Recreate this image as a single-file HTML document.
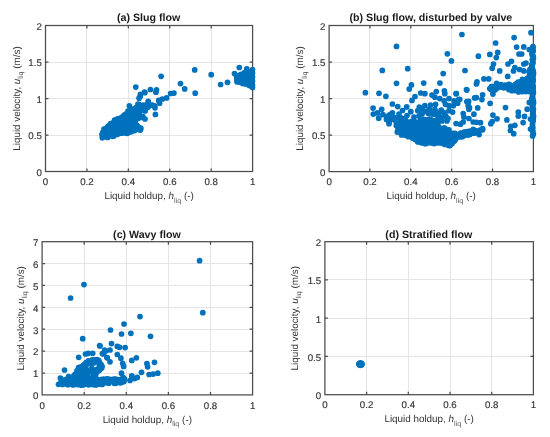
<!DOCTYPE html>
<html><head><meta charset="utf-8"><title>Flow regimes</title><style>html,body{margin:0;padding:0;background:#fff}svg{display:block}</style></head><body>
<svg width="550" height="437" viewBox="0 0 550 437" font-family="Liberation Sans, sans-serif" text-rendering="geometricPrecision">
<rect width="550" height="437" fill="#fff"/>
<g stroke="#e5e5e5" stroke-width="1"><line x1="86.50" y1="25.5" x2="86.50" y2="171.5"/><line x1="128.50" y1="25.5" x2="128.50" y2="171.5"/><line x1="169.50" y1="25.5" x2="169.50" y2="171.5"/><line x1="211.50" y1="25.5" x2="211.50" y2="171.5"/><line x1="45.5" y1="135.50" x2="252.6" y2="135.50"/><line x1="45.5" y1="98.50" x2="252.6" y2="98.50"/><line x1="45.5" y1="62.50" x2="252.6" y2="62.50"/></g>
<rect x="45.5" y="25.5" width="207.1" height="146.0" fill="none" stroke="#4c4c4c" stroke-width="1.25"/>
<path d="M86.92 171.5v-3M86.92 25.5v3M128.34 171.5v-3M128.34 25.5v3M169.76 171.5v-3M169.76 25.5v3M211.18 171.5v-3M211.18 25.5v3M45.5 135.00h3M252.6 135.00h-3M45.5 98.50h3M252.6 98.50h-3M45.5 62.00h3M252.6 62.00h-3" stroke="#4c4c4c" stroke-width="1.25" fill="none"/>
<g fill="#0072bd"><circle cx="130.4" cy="110.0" r="2.85"/><circle cx="131.9" cy="109.6" r="2.85"/><circle cx="128.0" cy="111.0" r="2.85"/><circle cx="130.7" cy="111.3" r="2.85"/><circle cx="133.7" cy="111.5" r="2.85"/><circle cx="126.2" cy="113.8" r="2.85"/><circle cx="127.7" cy="113.0" r="2.85"/><circle cx="129.2" cy="112.3" r="2.85"/><circle cx="131.7" cy="112.6" r="2.85"/><circle cx="134.6" cy="112.4" r="2.85"/><circle cx="135.4" cy="113.7" r="2.85"/><circle cx="124.2" cy="115.1" r="2.85"/><circle cx="127.4" cy="114.7" r="2.85"/><circle cx="129.5" cy="115.6" r="2.85"/><circle cx="131.6" cy="114.6" r="2.85"/><circle cx="132.6" cy="114.4" r="2.85"/><circle cx="134.6" cy="114.3" r="2.85"/><circle cx="122.1" cy="117.1" r="2.85"/><circle cx="123.0" cy="117.2" r="2.85"/><circle cx="126.4" cy="116.9" r="2.85"/><circle cx="127.5" cy="116.7" r="2.85"/><circle cx="129.3" cy="115.9" r="2.85"/><circle cx="132.7" cy="116.9" r="2.85"/><circle cx="134.1" cy="117.3" r="2.85"/><circle cx="136.0" cy="117.2" r="2.85"/><circle cx="117.5" cy="118.9" r="2.85"/><circle cx="119.9" cy="118.4" r="2.85"/><circle cx="122.9" cy="118.6" r="2.85"/><circle cx="124.3" cy="118.5" r="2.85"/><circle cx="126.8" cy="118.9" r="2.85"/><circle cx="128.2" cy="118.6" r="2.85"/><circle cx="130.5" cy="118.1" r="2.85"/><circle cx="133.4" cy="118.5" r="2.85"/><circle cx="135.2" cy="118.9" r="2.85"/><circle cx="137.9" cy="118.4" r="2.85"/><circle cx="114.5" cy="120.2" r="2.85"/><circle cx="116.6" cy="119.9" r="2.85"/><circle cx="118.7" cy="120.6" r="2.85"/><circle cx="121.9" cy="120.9" r="2.85"/><circle cx="123.0" cy="120.6" r="2.85"/><circle cx="125.9" cy="119.7" r="2.85"/><circle cx="128.4" cy="121.0" r="2.85"/><circle cx="129.4" cy="121.0" r="2.85"/><circle cx="131.8" cy="120.3" r="2.85"/><circle cx="134.8" cy="120.8" r="2.85"/><circle cx="135.6" cy="120.2" r="2.85"/><circle cx="113.4" cy="122.6" r="2.85"/><circle cx="115.8" cy="121.5" r="2.85"/><circle cx="118.2" cy="122.8" r="2.85"/><circle cx="120.9" cy="121.7" r="2.85"/><circle cx="121.9" cy="122.8" r="2.85"/><circle cx="124.7" cy="122.4" r="2.85"/><circle cx="126.0" cy="121.4" r="2.85"/><circle cx="129.1" cy="122.0" r="2.85"/><circle cx="130.2" cy="122.8" r="2.85"/><circle cx="133.2" cy="122.6" r="2.85"/><circle cx="110.6" cy="123.6" r="2.85"/><circle cx="113.5" cy="123.6" r="2.85"/><circle cx="115.2" cy="123.4" r="2.85"/><circle cx="117.0" cy="123.2" r="2.85"/><circle cx="119.0" cy="123.2" r="2.85"/><circle cx="121.8" cy="124.0" r="2.85"/><circle cx="123.1" cy="123.9" r="2.85"/><circle cx="126.3" cy="123.3" r="2.85"/><circle cx="128.3" cy="123.8" r="2.85"/><circle cx="129.8" cy="124.5" r="2.85"/><circle cx="131.8" cy="124.0" r="2.85"/><circle cx="134.4" cy="124.7" r="2.85"/><circle cx="135.9" cy="124.5" r="2.85"/><circle cx="108.4" cy="126.0" r="2.85"/><circle cx="109.6" cy="125.4" r="2.85"/><circle cx="111.7" cy="125.7" r="2.85"/><circle cx="113.6" cy="125.7" r="2.85"/><circle cx="115.8" cy="126.5" r="2.85"/><circle cx="119.1" cy="125.8" r="2.85"/><circle cx="120.0" cy="126.5" r="2.85"/><circle cx="122.2" cy="125.5" r="2.85"/><circle cx="123.8" cy="125.6" r="2.85"/><circle cx="126.7" cy="125.8" r="2.85"/><circle cx="128.3" cy="125.8" r="2.85"/><circle cx="130.1" cy="125.4" r="2.85"/><circle cx="132.3" cy="125.6" r="2.85"/><circle cx="134.4" cy="125.0" r="2.85"/><circle cx="136.9" cy="125.3" r="2.85"/><circle cx="107.5" cy="127.0" r="2.85"/><circle cx="109.2" cy="127.8" r="2.85"/><circle cx="110.2" cy="128.1" r="2.85"/><circle cx="113.7" cy="127.8" r="2.85"/><circle cx="115.5" cy="128.1" r="2.85"/><circle cx="116.7" cy="127.6" r="2.85"/><circle cx="119.4" cy="128.1" r="2.85"/><circle cx="121.9" cy="128.1" r="2.85"/><circle cx="123.7" cy="128.2" r="2.85"/><circle cx="125.9" cy="127.9" r="2.85"/><circle cx="127.3" cy="126.8" r="2.85"/><circle cx="129.3" cy="127.4" r="2.85"/><circle cx="131.3" cy="128.1" r="2.85"/><circle cx="134.1" cy="127.8" r="2.85"/><circle cx="136.4" cy="127.9" r="2.85"/><circle cx="138.2" cy="126.8" r="2.85"/><circle cx="140.8" cy="128.0" r="2.85"/><circle cx="104.0" cy="129.0" r="2.85"/><circle cx="105.0" cy="129.0" r="2.85"/><circle cx="108.2" cy="129.0" r="2.85"/><circle cx="110.3" cy="130.2" r="2.85"/><circle cx="112.0" cy="129.2" r="2.85"/><circle cx="114.1" cy="129.7" r="2.85"/><circle cx="116.6" cy="129.6" r="2.85"/><circle cx="118.5" cy="128.7" r="2.85"/><circle cx="119.8" cy="129.0" r="2.85"/><circle cx="122.9" cy="129.1" r="2.85"/><circle cx="124.7" cy="128.6" r="2.85"/><circle cx="126.0" cy="129.1" r="2.85"/><circle cx="129.1" cy="129.7" r="2.85"/><circle cx="131.2" cy="129.1" r="2.85"/><circle cx="133.0" cy="129.4" r="2.85"/><circle cx="135.0" cy="128.8" r="2.85"/><circle cx="137.8" cy="128.9" r="2.85"/><circle cx="140.1" cy="130.1" r="2.85"/><circle cx="140.6" cy="129.4" r="2.85"/><circle cx="103.1" cy="132.0" r="2.85"/><circle cx="104.6" cy="130.9" r="2.85"/><circle cx="106.3" cy="132.0" r="2.85"/><circle cx="108.4" cy="131.4" r="2.85"/><circle cx="110.4" cy="131.3" r="2.85"/><circle cx="113.8" cy="130.7" r="2.85"/><circle cx="115.7" cy="131.3" r="2.85"/><circle cx="117.9" cy="131.6" r="2.85"/><circle cx="118.9" cy="131.9" r="2.85"/><circle cx="121.4" cy="130.5" r="2.85"/><circle cx="122.8" cy="131.2" r="2.85"/><circle cx="125.6" cy="130.9" r="2.85"/><circle cx="127.2" cy="131.0" r="2.85"/><circle cx="129.6" cy="131.8" r="2.85"/><circle cx="131.2" cy="131.7" r="2.85"/><circle cx="134.6" cy="130.6" r="2.85"/><circle cx="103.2" cy="132.4" r="2.85"/><circle cx="105.1" cy="133.6" r="2.85"/><circle cx="107.5" cy="133.8" r="2.85"/><circle cx="109.5" cy="132.7" r="2.85"/><circle cx="112.0" cy="132.6" r="2.85"/><circle cx="113.9" cy="133.8" r="2.85"/><circle cx="116.8" cy="133.6" r="2.85"/><circle cx="118.5" cy="133.7" r="2.85"/><circle cx="121.1" cy="133.2" r="2.85"/><circle cx="122.9" cy="132.4" r="2.85"/><circle cx="125.0" cy="133.0" r="2.85"/><circle cx="127.1" cy="133.3" r="2.85"/><circle cx="128.5" cy="132.4" r="2.85"/><circle cx="102.0" cy="134.4" r="2.85"/><circle cx="104.2" cy="135.6" r="2.85"/><circle cx="106.7" cy="134.5" r="2.85"/><circle cx="109.5" cy="135.7" r="2.85"/><circle cx="110.9" cy="134.3" r="2.85"/><circle cx="112.6" cy="134.3" r="2.85"/><circle cx="114.9" cy="134.3" r="2.85"/><circle cx="116.8" cy="134.5" r="2.85"/><circle cx="104.2" cy="136.7" r="2.85"/><circle cx="105.8" cy="135.9" r="2.85"/><circle cx="107.6" cy="137.4" r="2.85"/><circle cx="112.8" cy="136.3" r="2.85"/><circle cx="113.5" cy="136.2" r="2.85"/><circle cx="161.1" cy="76.3" r="2.85"/><circle cx="135.8" cy="87.1" r="2.85"/><circle cx="180.5" cy="83.6" r="2.85"/><circle cx="184.7" cy="88.9" r="2.85"/><circle cx="150.4" cy="89.5" r="2.85"/><circle cx="156.5" cy="89.8" r="2.85"/><circle cx="155.9" cy="92.2" r="2.85"/><circle cx="144.9" cy="92.7" r="2.85"/><circle cx="140.4" cy="94.4" r="2.85"/><circle cx="139.1" cy="98.2" r="2.85"/><circle cx="170.6" cy="93.5" r="2.85"/><circle cx="173.9" cy="93.1" r="2.85"/><circle cx="166.6" cy="97.9" r="2.85"/><circle cx="162.3" cy="99.0" r="2.85"/><circle cx="158.7" cy="100.4" r="2.85"/><circle cx="148.2" cy="101.4" r="2.85"/><circle cx="159.6" cy="103.2" r="2.85"/><circle cx="155.0" cy="107.8" r="2.85"/><circle cx="152.3" cy="105.0" r="2.85"/><circle cx="155.4" cy="114.4" r="2.85"/><circle cx="129.4" cy="105.9" r="2.85"/><circle cx="139.1" cy="104.5" r="2.85"/><circle cx="143.1" cy="105.0" r="2.85"/><circle cx="194.7" cy="69.9" r="2.85"/><circle cx="211.2" cy="74.7" r="2.85"/><circle cx="220.6" cy="84.5" r="2.85"/><circle cx="227.5" cy="82.3" r="2.85"/><circle cx="195.2" cy="93.2" r="2.85"/><circle cx="150.9" cy="105.1" r="2.85"/><circle cx="154.5" cy="105.8" r="2.85"/><circle cx="144.4" cy="106.5" r="2.85"/><circle cx="142.9" cy="109.5" r="2.85"/><circle cx="145.1" cy="110.9" r="2.85"/><circle cx="142.9" cy="116.7" r="2.85"/><circle cx="145.0" cy="119.0" r="2.85"/><circle cx="141.0" cy="117.5" r="2.85"/><circle cx="138.0" cy="104.0" r="2.85"/><circle cx="133.5" cy="109.0" r="2.85"/><circle cx="141.6" cy="108.2" r="2.85"/><circle cx="148.2" cy="106.7" r="2.85"/><circle cx="136.0" cy="107.5" r="2.85"/><circle cx="139.5" cy="106.3" r="2.85"/><circle cx="143.0" cy="105.8" r="2.85"/><circle cx="146.5" cy="104.8" r="2.85"/><circle cx="141.0" cy="110.0" r="2.85"/><circle cx="144.0" cy="108.7" r="2.85"/><circle cx="138.0" cy="111.5" r="2.85"/><circle cx="147.3" cy="107.5" r="2.85"/><circle cx="135.0" cy="110.0" r="2.85"/><circle cx="139.5" cy="112.5" r="2.85"/><circle cx="102.3" cy="137.7" r="2.85"/><circle cx="139.5" cy="114.7" r="2.85"/><circle cx="136.5" cy="111.8" r="2.85"/><circle cx="140.2" cy="96.5" r="2.85"/><circle cx="144.5" cy="92.2" r="2.85"/><circle cx="246.4" cy="71.6" r="2.85"/><circle cx="248.3" cy="71.8" r="2.85"/><circle cx="251.6" cy="71.7" r="2.85"/><circle cx="244.4" cy="72.6" r="2.85"/><circle cx="247.6" cy="72.2" r="2.85"/><circle cx="249.7" cy="72.4" r="2.85"/><circle cx="250.8" cy="73.3" r="2.85"/><circle cx="239.3" cy="75.3" r="2.85"/><circle cx="241.1" cy="74.4" r="2.85"/><circle cx="244.3" cy="73.9" r="2.85"/><circle cx="245.7" cy="75.2" r="2.85"/><circle cx="248.3" cy="73.9" r="2.85"/><circle cx="249.3" cy="74.0" r="2.85"/><circle cx="236.7" cy="77.1" r="2.85"/><circle cx="238.2" cy="76.1" r="2.85"/><circle cx="241.3" cy="76.7" r="2.85"/><circle cx="242.3" cy="76.8" r="2.85"/><circle cx="244.5" cy="76.1" r="2.85"/><circle cx="246.1" cy="76.9" r="2.85"/><circle cx="249.6" cy="76.7" r="2.85"/><circle cx="251.8" cy="75.7" r="2.85"/><circle cx="238.1" cy="79.0" r="2.85"/><circle cx="239.3" cy="77.9" r="2.85"/><circle cx="241.5" cy="78.3" r="2.85"/><circle cx="244.4" cy="77.8" r="2.85"/><circle cx="246.3" cy="78.7" r="2.85"/><circle cx="248.4" cy="78.7" r="2.85"/><circle cx="250.2" cy="78.0" r="2.85"/><circle cx="251.8" cy="78.1" r="2.85"/><circle cx="236.8" cy="79.5" r="2.85"/><circle cx="238.0" cy="80.5" r="2.85"/><circle cx="240.1" cy="79.4" r="2.85"/><circle cx="241.9" cy="80.2" r="2.85"/><circle cx="244.5" cy="80.9" r="2.85"/><circle cx="247.5" cy="80.9" r="2.85"/><circle cx="248.6" cy="79.5" r="2.85"/><circle cx="250.4" cy="80.1" r="2.85"/><circle cx="237.0" cy="81.8" r="2.85"/><circle cx="239.7" cy="82.2" r="2.85"/><circle cx="242.0" cy="82.5" r="2.85"/><circle cx="244.0" cy="81.4" r="2.85"/><circle cx="246.3" cy="81.6" r="2.85"/><circle cx="248.0" cy="81.8" r="2.85"/><circle cx="250.4" cy="81.5" r="2.85"/><circle cx="251.7" cy="81.6" r="2.85"/><circle cx="242.7" cy="83.4" r="2.85"/><circle cx="245.2" cy="84.0" r="2.85"/><circle cx="247.6" cy="83.2" r="2.85"/><circle cx="248.9" cy="84.3" r="2.85"/><circle cx="251.6" cy="84.5" r="2.85"/><circle cx="248.6" cy="85.0" r="2.85"/><circle cx="250.2" cy="85.8" r="2.85"/><circle cx="251.6" cy="85.4" r="2.85"/><circle cx="239.3" cy="67.5" r="2.85"/><circle cx="234.5" cy="73.6" r="2.85"/><circle cx="246.8" cy="68.9" r="2.85"/><circle cx="252.5" cy="69.5" r="2.85"/><circle cx="252.5" cy="73.0" r="2.85"/><circle cx="252.5" cy="77.0" r="2.85"/><circle cx="252.5" cy="81.0" r="2.85"/><circle cx="252.5" cy="85.0" r="2.85"/><circle cx="252.5" cy="87.5" r="2.85"/></g>
<g fill="#333" font-size="9.7" stroke="#333" stroke-width="0.15">
<text x="45.5" y="185.2" text-anchor="middle">0</text>
<text x="86.9" y="185.2" text-anchor="middle">0.2</text>
<text x="128.3" y="185.2" text-anchor="middle">0.4</text>
<text x="169.8" y="185.2" text-anchor="middle">0.6</text>
<text x="211.2" y="185.2" text-anchor="middle">0.8</text>
<text x="252.6" y="185.2" text-anchor="middle">1</text>
<text x="41.8" y="175.8" text-anchor="end">0</text>
<text x="41.8" y="139.3" text-anchor="end">0.5</text>
<text x="41.8" y="102.8" text-anchor="end">1</text>
<text x="41.8" y="66.3" text-anchor="end">1.5</text>
<text x="41.8" y="29.8" text-anchor="end">2</text>
</g>
<text x="148.7" y="21.4" text-anchor="middle" font-size="10.65" font-weight="bold" fill="#1a1a1a">(a) Slug flow</text>
<text x="149.1" y="199.1" text-anchor="middle" font-size="9.85" fill="#333">Liquid holdup, <tspan font-style="italic">h</tspan><tspan font-size="7.2" dy="3.9" fill="#5a5a5a">liq</tspan><tspan dy="-3.9"> (-)</tspan></text>
<text transform="translate(19.5 98.5) rotate(-90)" text-anchor="middle" font-size="9.85" fill="#333">Liquid velocity, <tspan font-style="italic">u</tspan><tspan font-size="7.2" dy="3.9" fill="#5a5a5a">liq</tspan><tspan dy="-3.9"> (m/s)</tspan></text>
<g stroke="#e5e5e5" stroke-width="1"><line x1="369.50" y1="25.5" x2="369.50" y2="171.6"/><line x1="410.50" y1="25.5" x2="410.50" y2="171.6"/><line x1="451.50" y1="25.5" x2="451.50" y2="171.6"/><line x1="492.50" y1="25.5" x2="492.50" y2="171.6"/><line x1="329.1" y1="135.50" x2="533.4" y2="135.50"/><line x1="329.1" y1="98.50" x2="533.4" y2="98.50"/><line x1="329.1" y1="62.50" x2="533.4" y2="62.50"/></g>
<rect x="329.1" y="25.5" width="204.29999999999995" height="146.1" fill="none" stroke="#4c4c4c" stroke-width="1.25"/>
<path d="M369.96 171.6v-3M369.96 25.5v3M410.82 171.6v-3M410.82 25.5v3M451.68 171.6v-3M451.68 25.5v3M492.54 171.6v-3M492.54 25.5v3M329.1 135.07h3M533.4 135.07h-3M329.1 98.55h3M533.4 98.55h-3M329.1 62.03h3M533.4 62.03h-3" stroke="#4c4c4c" stroke-width="1.25" fill="none"/>
<g fill="#0072bd"><circle cx="387.8" cy="116.2" r="2.85"/><circle cx="387.6" cy="117.1" r="2.85"/><circle cx="389.9" cy="117.2" r="2.85"/><circle cx="391.7" cy="118.0" r="2.85"/><circle cx="393.9" cy="117.6" r="2.85"/><circle cx="395.8" cy="118.1" r="2.85"/><circle cx="398.0" cy="118.2" r="2.85"/><circle cx="400.2" cy="117.8" r="2.85"/><circle cx="401.6" cy="118.1" r="2.85"/><circle cx="386.5" cy="119.4" r="2.85"/><circle cx="389.1" cy="120.0" r="2.85"/><circle cx="390.1" cy="120.3" r="2.85"/><circle cx="392.5" cy="119.2" r="2.85"/><circle cx="395.2" cy="119.0" r="2.85"/><circle cx="397.6" cy="119.4" r="2.85"/><circle cx="399.5" cy="120.7" r="2.85"/><circle cx="401.6" cy="120.1" r="2.85"/><circle cx="403.3" cy="118.9" r="2.85"/><circle cx="405.0" cy="119.2" r="2.85"/><circle cx="420.7" cy="120.0" r="2.85"/><circle cx="423.6" cy="119.3" r="2.85"/><circle cx="425.8" cy="119.8" r="2.85"/><circle cx="427.1" cy="120.6" r="2.85"/><circle cx="429.5" cy="119.2" r="2.85"/><circle cx="431.5" cy="120.1" r="2.85"/><circle cx="389.0" cy="122.2" r="2.85"/><circle cx="396.0" cy="121.6" r="2.85"/><circle cx="398.6" cy="121.8" r="2.85"/><circle cx="399.9" cy="122.0" r="2.85"/><circle cx="403.3" cy="121.2" r="2.85"/><circle cx="405.4" cy="120.9" r="2.85"/><circle cx="406.5" cy="121.3" r="2.85"/><circle cx="409.5" cy="122.5" r="2.85"/><circle cx="411.7" cy="121.4" r="2.85"/><circle cx="414.2" cy="121.4" r="2.85"/><circle cx="415.2" cy="122.5" r="2.85"/><circle cx="418.1" cy="122.1" r="2.85"/><circle cx="420.4" cy="122.6" r="2.85"/><circle cx="422.2" cy="122.4" r="2.85"/><circle cx="424.9" cy="122.4" r="2.85"/><circle cx="426.6" cy="122.1" r="2.85"/><circle cx="429.0" cy="121.4" r="2.85"/><circle cx="430.6" cy="122.0" r="2.85"/><circle cx="432.5" cy="122.5" r="2.85"/><circle cx="434.9" cy="120.9" r="2.85"/><circle cx="437.0" cy="122.5" r="2.85"/><circle cx="389.0" cy="123.7" r="2.85"/><circle cx="396.7" cy="124.0" r="2.85"/><circle cx="399.3" cy="123.1" r="2.85"/><circle cx="402.1" cy="122.9" r="2.85"/><circle cx="404.2" cy="123.1" r="2.85"/><circle cx="404.9" cy="123.1" r="2.85"/><circle cx="408.5" cy="124.5" r="2.85"/><circle cx="409.3" cy="123.6" r="2.85"/><circle cx="412.4" cy="124.2" r="2.85"/><circle cx="414.0" cy="123.6" r="2.85"/><circle cx="416.5" cy="124.3" r="2.85"/><circle cx="418.6" cy="124.5" r="2.85"/><circle cx="420.8" cy="123.1" r="2.85"/><circle cx="423.8" cy="123.7" r="2.85"/><circle cx="424.9" cy="123.9" r="2.85"/><circle cx="427.0" cy="124.2" r="2.85"/><circle cx="430.4" cy="124.2" r="2.85"/><circle cx="432.4" cy="123.4" r="2.85"/><circle cx="434.2" cy="123.5" r="2.85"/><circle cx="437.3" cy="122.9" r="2.85"/><circle cx="396.3" cy="125.5" r="2.85"/><circle cx="397.6" cy="125.8" r="2.85"/><circle cx="399.6" cy="125.0" r="2.85"/><circle cx="402.3" cy="124.7" r="2.85"/><circle cx="404.5" cy="126.1" r="2.85"/><circle cx="407.2" cy="125.6" r="2.85"/><circle cx="409.3" cy="125.5" r="2.85"/><circle cx="410.7" cy="125.8" r="2.85"/><circle cx="413.3" cy="126.0" r="2.85"/><circle cx="416.4" cy="125.4" r="2.85"/><circle cx="418.0" cy="126.0" r="2.85"/><circle cx="420.0" cy="125.1" r="2.85"/><circle cx="422.7" cy="126.3" r="2.85"/><circle cx="425.0" cy="125.9" r="2.85"/><circle cx="427.3" cy="125.9" r="2.85"/><circle cx="429.2" cy="125.5" r="2.85"/><circle cx="430.8" cy="125.8" r="2.85"/><circle cx="432.6" cy="125.4" r="2.85"/><circle cx="436.0" cy="126.0" r="2.85"/><circle cx="437.9" cy="125.1" r="2.85"/><circle cx="399.0" cy="127.0" r="2.85"/><circle cx="400.7" cy="128.0" r="2.85"/><circle cx="404.2" cy="127.7" r="2.85"/><circle cx="405.7" cy="127.6" r="2.85"/><circle cx="407.5" cy="128.3" r="2.85"/><circle cx="409.9" cy="127.7" r="2.85"/><circle cx="413.0" cy="128.1" r="2.85"/><circle cx="414.5" cy="127.1" r="2.85"/><circle cx="416.9" cy="126.8" r="2.85"/><circle cx="419.6" cy="127.2" r="2.85"/><circle cx="421.8" cy="127.1" r="2.85"/><circle cx="423.2" cy="127.0" r="2.85"/><circle cx="425.5" cy="126.9" r="2.85"/><circle cx="426.9" cy="127.9" r="2.85"/><circle cx="429.6" cy="127.0" r="2.85"/><circle cx="431.8" cy="127.4" r="2.85"/><circle cx="434.3" cy="127.7" r="2.85"/><circle cx="436.9" cy="127.2" r="2.85"/><circle cx="439.6" cy="128.1" r="2.85"/><circle cx="440.2" cy="128.1" r="2.85"/><circle cx="443.9" cy="128.0" r="2.85"/><circle cx="444.8" cy="128.1" r="2.85"/><circle cx="398.0" cy="129.5" r="2.85"/><circle cx="400.6" cy="130.0" r="2.85"/><circle cx="402.3" cy="129.3" r="2.85"/><circle cx="405.5" cy="128.6" r="2.85"/><circle cx="407.1" cy="129.6" r="2.85"/><circle cx="408.3" cy="129.6" r="2.85"/><circle cx="411.6" cy="130.2" r="2.85"/><circle cx="413.2" cy="130.3" r="2.85"/><circle cx="415.7" cy="129.4" r="2.85"/><circle cx="418.6" cy="128.6" r="2.85"/><circle cx="420.5" cy="129.6" r="2.85"/><circle cx="422.0" cy="130.0" r="2.85"/><circle cx="424.3" cy="129.4" r="2.85"/><circle cx="426.7" cy="129.9" r="2.85"/><circle cx="428.4" cy="129.3" r="2.85"/><circle cx="431.0" cy="129.5" r="2.85"/><circle cx="433.9" cy="129.0" r="2.85"/><circle cx="436.1" cy="129.2" r="2.85"/><circle cx="437.7" cy="129.0" r="2.85"/><circle cx="439.9" cy="130.3" r="2.85"/><circle cx="442.4" cy="129.9" r="2.85"/><circle cx="444.0" cy="129.1" r="2.85"/><circle cx="446.1" cy="129.6" r="2.85"/><circle cx="448.9" cy="129.9" r="2.85"/><circle cx="473.2" cy="129.3" r="2.85"/><circle cx="480.0" cy="130.1" r="2.85"/><circle cx="397.3" cy="132.1" r="2.85"/><circle cx="398.4" cy="131.4" r="2.85"/><circle cx="400.6" cy="130.6" r="2.85"/><circle cx="404.2" cy="131.4" r="2.85"/><circle cx="406.6" cy="131.2" r="2.85"/><circle cx="407.1" cy="131.1" r="2.85"/><circle cx="410.4" cy="132.1" r="2.85"/><circle cx="413.3" cy="131.3" r="2.85"/><circle cx="414.4" cy="130.6" r="2.85"/><circle cx="417.1" cy="130.8" r="2.85"/><circle cx="418.4" cy="130.4" r="2.85"/><circle cx="420.3" cy="131.6" r="2.85"/><circle cx="422.7" cy="132.2" r="2.85"/><circle cx="424.9" cy="132.0" r="2.85"/><circle cx="427.1" cy="130.4" r="2.85"/><circle cx="430.4" cy="130.8" r="2.85"/><circle cx="432.6" cy="130.7" r="2.85"/><circle cx="433.6" cy="131.8" r="2.85"/><circle cx="437.0" cy="132.0" r="2.85"/><circle cx="439.2" cy="130.6" r="2.85"/><circle cx="441.2" cy="131.7" r="2.85"/><circle cx="443.1" cy="132.1" r="2.85"/><circle cx="445.0" cy="132.1" r="2.85"/><circle cx="448.0" cy="130.4" r="2.85"/><circle cx="448.9" cy="131.6" r="2.85"/><circle cx="464.6" cy="131.8" r="2.85"/><circle cx="467.2" cy="131.6" r="2.85"/><circle cx="469.8" cy="131.2" r="2.85"/><circle cx="471.6" cy="131.8" r="2.85"/><circle cx="474.8" cy="131.8" r="2.85"/><circle cx="476.3" cy="130.9" r="2.85"/><circle cx="477.6" cy="132.2" r="2.85"/><circle cx="400.9" cy="132.8" r="2.85"/><circle cx="401.6" cy="132.8" r="2.85"/><circle cx="404.6" cy="133.4" r="2.85"/><circle cx="407.5" cy="133.9" r="2.85"/><circle cx="408.3" cy="133.8" r="2.85"/><circle cx="411.9" cy="133.9" r="2.85"/><circle cx="413.6" cy="132.8" r="2.85"/><circle cx="416.3" cy="133.8" r="2.85"/><circle cx="418.2" cy="134.0" r="2.85"/><circle cx="419.8" cy="132.5" r="2.85"/><circle cx="422.4" cy="133.8" r="2.85"/><circle cx="424.0" cy="133.7" r="2.85"/><circle cx="427.5" cy="132.7" r="2.85"/><circle cx="429.1" cy="133.5" r="2.85"/><circle cx="431.0" cy="132.7" r="2.85"/><circle cx="432.9" cy="133.7" r="2.85"/><circle cx="436.0" cy="133.2" r="2.85"/><circle cx="437.0" cy="133.8" r="2.85"/><circle cx="440.4" cy="132.7" r="2.85"/><circle cx="442.2" cy="133.9" r="2.85"/><circle cx="445.0" cy="133.3" r="2.85"/><circle cx="446.5" cy="133.4" r="2.85"/><circle cx="448.1" cy="132.7" r="2.85"/><circle cx="450.3" cy="133.6" r="2.85"/><circle cx="452.9" cy="133.3" r="2.85"/><circle cx="455.1" cy="133.3" r="2.85"/><circle cx="460.6" cy="133.0" r="2.85"/><circle cx="461.2" cy="133.5" r="2.85"/><circle cx="464.6" cy="132.6" r="2.85"/><circle cx="466.5" cy="132.9" r="2.85"/><circle cx="468.5" cy="132.4" r="2.85"/><circle cx="469.9" cy="134.1" r="2.85"/><circle cx="473.6" cy="133.2" r="2.85"/><circle cx="475.2" cy="132.8" r="2.85"/><circle cx="401.6" cy="135.0" r="2.85"/><circle cx="405.4" cy="135.3" r="2.85"/><circle cx="408.3" cy="136.0" r="2.85"/><circle cx="410.5" cy="134.9" r="2.85"/><circle cx="412.3" cy="134.5" r="2.85"/><circle cx="415.4" cy="136.0" r="2.85"/><circle cx="416.3" cy="134.3" r="2.85"/><circle cx="418.6" cy="134.9" r="2.85"/><circle cx="421.9" cy="135.9" r="2.85"/><circle cx="424.0" cy="134.3" r="2.85"/><circle cx="426.1" cy="135.5" r="2.85"/><circle cx="428.1" cy="136.0" r="2.85"/><circle cx="429.2" cy="134.5" r="2.85"/><circle cx="432.7" cy="135.9" r="2.85"/><circle cx="434.7" cy="134.8" r="2.85"/><circle cx="436.8" cy="135.6" r="2.85"/><circle cx="438.1" cy="134.8" r="2.85"/><circle cx="440.6" cy="134.5" r="2.85"/><circle cx="443.2" cy="134.5" r="2.85"/><circle cx="444.9" cy="134.5" r="2.85"/><circle cx="447.9" cy="134.3" r="2.85"/><circle cx="450.2" cy="134.6" r="2.85"/><circle cx="451.2" cy="135.9" r="2.85"/><circle cx="453.7" cy="135.9" r="2.85"/><circle cx="457.1" cy="135.8" r="2.85"/><circle cx="458.0" cy="135.0" r="2.85"/><circle cx="460.1" cy="135.9" r="2.85"/><circle cx="463.6" cy="135.4" r="2.85"/><circle cx="465.1" cy="134.9" r="2.85"/><circle cx="468.0" cy="135.1" r="2.85"/><circle cx="469.8" cy="134.5" r="2.85"/><circle cx="408.4" cy="136.7" r="2.85"/><circle cx="412.0" cy="136.3" r="2.85"/><circle cx="413.9" cy="136.7" r="2.85"/><circle cx="416.6" cy="136.2" r="2.85"/><circle cx="418.5" cy="136.8" r="2.85"/><circle cx="419.5" cy="136.2" r="2.85"/><circle cx="422.9" cy="137.1" r="2.85"/><circle cx="423.9" cy="136.9" r="2.85"/><circle cx="427.4" cy="136.5" r="2.85"/><circle cx="429.0" cy="136.4" r="2.85"/><circle cx="430.5" cy="137.5" r="2.85"/><circle cx="433.7" cy="136.5" r="2.85"/><circle cx="434.7" cy="136.3" r="2.85"/><circle cx="437.9" cy="137.0" r="2.85"/><circle cx="439.5" cy="136.5" r="2.85"/><circle cx="442.3" cy="137.4" r="2.85"/><circle cx="444.9" cy="137.2" r="2.85"/><circle cx="446.0" cy="136.3" r="2.85"/><circle cx="449.1" cy="136.9" r="2.85"/><circle cx="451.3" cy="136.3" r="2.85"/><circle cx="453.7" cy="136.8" r="2.85"/><circle cx="455.9" cy="137.7" r="2.85"/><circle cx="457.5" cy="136.2" r="2.85"/><circle cx="460.4" cy="137.0" r="2.85"/><circle cx="462.6" cy="136.6" r="2.85"/><circle cx="412.8" cy="138.3" r="2.85"/><circle cx="415.3" cy="139.4" r="2.85"/><circle cx="416.0" cy="138.3" r="2.85"/><circle cx="419.0" cy="139.0" r="2.85"/><circle cx="420.8" cy="138.3" r="2.85"/><circle cx="423.2" cy="138.3" r="2.85"/><circle cx="425.8" cy="139.6" r="2.85"/><circle cx="427.2" cy="139.1" r="2.85"/><circle cx="430.4" cy="138.4" r="2.85"/><circle cx="432.8" cy="139.8" r="2.85"/><circle cx="434.2" cy="138.8" r="2.85"/><circle cx="437.2" cy="139.0" r="2.85"/><circle cx="438.6" cy="139.8" r="2.85"/><circle cx="441.5" cy="138.7" r="2.85"/><circle cx="442.7" cy="138.7" r="2.85"/><circle cx="445.3" cy="139.8" r="2.85"/><circle cx="448.1" cy="139.7" r="2.85"/><circle cx="450.4" cy="139.6" r="2.85"/><circle cx="451.2" cy="139.0" r="2.85"/><circle cx="455.0" cy="139.7" r="2.85"/><circle cx="455.9" cy="138.8" r="2.85"/><circle cx="417.4" cy="141.3" r="2.85"/><circle cx="420.0" cy="141.0" r="2.85"/><circle cx="422.5" cy="140.8" r="2.85"/><circle cx="424.2" cy="140.4" r="2.85"/><circle cx="426.2" cy="140.9" r="2.85"/><circle cx="428.7" cy="141.0" r="2.85"/><circle cx="430.2" cy="140.6" r="2.85"/><circle cx="434.0" cy="140.4" r="2.85"/><circle cx="435.6" cy="140.9" r="2.85"/><circle cx="437.3" cy="141.8" r="2.85"/><circle cx="439.5" cy="141.4" r="2.85"/><circle cx="441.5" cy="140.1" r="2.85"/><circle cx="445.0" cy="140.8" r="2.85"/><circle cx="445.7" cy="140.7" r="2.85"/><circle cx="448.6" cy="141.3" r="2.85"/><circle cx="450.2" cy="140.4" r="2.85"/><circle cx="453.9" cy="141.3" r="2.85"/><circle cx="454.7" cy="140.6" r="2.85"/><circle cx="418.1" cy="142.0" r="2.85"/><circle cx="421.3" cy="142.8" r="2.85"/><circle cx="424.2" cy="143.3" r="2.85"/><circle cx="425.7" cy="143.7" r="2.85"/><circle cx="427.8" cy="142.8" r="2.85"/><circle cx="430.3" cy="142.6" r="2.85"/><circle cx="431.9" cy="143.0" r="2.85"/><circle cx="434.1" cy="143.6" r="2.85"/><circle cx="436.9" cy="142.8" r="2.85"/><circle cx="438.1" cy="142.6" r="2.85"/><circle cx="440.8" cy="142.9" r="2.85"/><circle cx="443.3" cy="143.5" r="2.85"/><circle cx="446.2" cy="142.8" r="2.85"/><circle cx="447.5" cy="143.0" r="2.85"/><circle cx="450.7" cy="142.5" r="2.85"/><circle cx="452.1" cy="143.4" r="2.85"/><circle cx="444.9" cy="144.4" r="2.85"/><circle cx="448.7" cy="145.5" r="2.85"/><circle cx="450.4" cy="144.5" r="2.85"/><circle cx="373.1" cy="108.1" r="2.85"/><circle cx="381.7" cy="109.3" r="2.85"/><circle cx="373.3" cy="114.1" r="2.85"/><circle cx="377.5" cy="112.9" r="2.85"/><circle cx="378.7" cy="118.2" r="2.85"/><circle cx="382.9" cy="114.7" r="2.85"/><circle cx="392.4" cy="104.0" r="2.85"/><circle cx="397.7" cy="106.6" r="2.85"/><circle cx="406.7" cy="106.9" r="2.85"/><circle cx="410.8" cy="111.7" r="2.85"/><circle cx="402.5" cy="110.5" r="2.85"/><circle cx="392.4" cy="112.9" r="2.85"/><circle cx="412.0" cy="100.4" r="2.85"/><circle cx="387.0" cy="117.0" r="2.85"/><circle cx="390.0" cy="114.5" r="2.85"/><circle cx="399.0" cy="114.0" r="2.85"/><circle cx="407.0" cy="115.5" r="2.85"/><circle cx="414.0" cy="117.0" r="2.85"/><circle cx="419.0" cy="116.0" r="2.85"/><circle cx="421.0" cy="112.0" r="2.85"/><circle cx="422.0" cy="108.5" r="2.85"/><circle cx="396.5" cy="46.4" r="2.85"/><circle cx="447.4" cy="53.8" r="2.85"/><circle cx="451.4" cy="60.9" r="2.85"/><circle cx="382.3" cy="70.4" r="2.85"/><circle cx="407.7" cy="68.7" r="2.85"/><circle cx="443.2" cy="73.6" r="2.85"/><circle cx="396.5" cy="83.3" r="2.85"/><circle cx="411.4" cy="84.9" r="2.85"/><circle cx="409.2" cy="89.1" r="2.85"/><circle cx="423.7" cy="83.1" r="2.85"/><circle cx="439.9" cy="83.1" r="2.85"/><circle cx="365.4" cy="92.7" r="2.85"/><circle cx="379.0" cy="93.3" r="2.85"/><circle cx="385.9" cy="96.3" r="2.85"/><circle cx="415.0" cy="96.5" r="2.85"/><circle cx="420.7" cy="93.0" r="2.85"/><circle cx="424.9" cy="93.7" r="2.85"/><circle cx="436.3" cy="91.5" r="2.85"/><circle cx="444.4" cy="90.8" r="2.85"/><circle cx="444.8" cy="93.7" r="2.85"/><circle cx="456.1" cy="93.7" r="2.85"/><circle cx="466.8" cy="90.1" r="2.85"/><circle cx="432.0" cy="95.1" r="2.85"/><circle cx="434.9" cy="97.2" r="2.85"/><circle cx="439.8" cy="98.6" r="2.85"/><circle cx="444.1" cy="100.8" r="2.85"/><circle cx="449.0" cy="98.6" r="2.85"/><circle cx="454.0" cy="100.8" r="2.85"/><circle cx="459.7" cy="99.3" r="2.85"/><circle cx="466.8" cy="101.5" r="2.85"/><circle cx="474.6" cy="97.9" r="2.85"/><circle cx="445.5" cy="104.3" r="2.85"/><circle cx="449.0" cy="105.7" r="2.85"/><circle cx="453.3" cy="105.7" r="2.85"/><circle cx="456.1" cy="102.9" r="2.85"/><circle cx="468.2" cy="105.7" r="2.85"/><circle cx="468.9" cy="109.3" r="2.85"/><circle cx="419.3" cy="107.1" r="2.85"/><circle cx="424.9" cy="105.7" r="2.85"/><circle cx="430.6" cy="105.0" r="2.85"/><circle cx="435.6" cy="104.3" r="2.85"/><circle cx="417.8" cy="110.7" r="2.85"/><circle cx="429.2" cy="109.3" r="2.85"/><circle cx="434.9" cy="109.3" r="2.85"/><circle cx="426.0" cy="111.5" r="2.85"/><circle cx="431.0" cy="112.5" r="2.85"/><circle cx="422.0" cy="114.0" r="2.85"/><circle cx="441.2" cy="110.0" r="2.85"/><circle cx="449.0" cy="110.7" r="2.85"/><circle cx="452.6" cy="112.1" r="2.85"/><circle cx="437.7" cy="115.0" r="2.85"/><circle cx="445.5" cy="115.7" r="2.85"/><circle cx="441.0" cy="117.5" r="2.85"/><circle cx="448.0" cy="118.5" r="2.85"/><circle cx="463.2" cy="113.5" r="2.85"/><circle cx="463.9" cy="117.1" r="2.85"/><circle cx="473.9" cy="114.2" r="2.85"/><circle cx="468.9" cy="118.5" r="2.85"/><circle cx="473.2" cy="122.0" r="2.85"/><circle cx="463.2" cy="122.0" r="2.85"/><circle cx="456.1" cy="123.5" r="2.85"/><circle cx="460.4" cy="124.2" r="2.85"/><circle cx="461.9" cy="34.5" r="2.85"/><circle cx="531.0" cy="32.7" r="2.85"/><circle cx="514.1" cy="37.6" r="2.85"/><circle cx="495.6" cy="43.0" r="2.85"/><circle cx="516.6" cy="47.1" r="2.85"/><circle cx="523.8" cy="46.9" r="2.85"/><circle cx="529.3" cy="49.6" r="2.85"/><circle cx="478.4" cy="56.2" r="2.85"/><circle cx="489.8" cy="54.4" r="2.85"/><circle cx="497.7" cy="52.4" r="2.85"/><circle cx="496.3" cy="57.6" r="2.85"/><circle cx="519.0" cy="54.0" r="2.85"/><circle cx="521.7" cy="54.0" r="2.85"/><circle cx="511.4" cy="61.3" r="2.85"/><circle cx="508.0" cy="64.0" r="2.85"/><circle cx="523.8" cy="64.0" r="2.85"/><circle cx="526.0" cy="63.0" r="2.85"/><circle cx="493.5" cy="64.0" r="2.85"/><circle cx="492.2" cy="68.2" r="2.85"/><circle cx="514.8" cy="67.5" r="2.85"/><circle cx="513.5" cy="70.9" r="2.85"/><circle cx="499.7" cy="70.9" r="2.85"/><circle cx="519.6" cy="69.5" r="2.85"/><circle cx="523.8" cy="70.9" r="2.85"/><circle cx="507.7" cy="76.4" r="2.85"/><circle cx="465.0" cy="70.5" r="2.85"/><circle cx="483.9" cy="78.9" r="2.85"/><circle cx="488.7" cy="78.9" r="2.85"/><circle cx="477.0" cy="81.9" r="2.85"/><circle cx="476.4" cy="84.0" r="2.85"/><circle cx="466.5" cy="89.6" r="2.85"/><circle cx="456.3" cy="93.6" r="2.85"/><circle cx="530.0" cy="69.4" r="2.85"/><circle cx="531.4" cy="70.7" r="2.85"/><circle cx="529.0" cy="71.8" r="2.85"/><circle cx="531.3" cy="72.6" r="2.85"/><circle cx="532.8" cy="71.3" r="2.85"/><circle cx="529.8" cy="73.9" r="2.85"/><circle cx="532.8" cy="73.7" r="2.85"/><circle cx="529.5" cy="76.1" r="2.85"/><circle cx="530.2" cy="76.0" r="2.85"/><circle cx="533.1" cy="75.4" r="2.85"/><circle cx="527.6" cy="78.2" r="2.85"/><circle cx="530.3" cy="78.4" r="2.85"/><circle cx="532.8" cy="78.8" r="2.85"/><circle cx="522.4" cy="79.4" r="2.85"/><circle cx="523.6" cy="79.9" r="2.85"/><circle cx="526.4" cy="79.7" r="2.85"/><circle cx="528.1" cy="79.3" r="2.85"/><circle cx="530.6" cy="79.9" r="2.85"/><circle cx="518.1" cy="82.1" r="2.85"/><circle cx="520.7" cy="81.8" r="2.85"/><circle cx="522.2" cy="81.4" r="2.85"/><circle cx="525.9" cy="82.1" r="2.85"/><circle cx="526.8" cy="82.7" r="2.85"/><circle cx="529.3" cy="81.3" r="2.85"/><circle cx="532.1" cy="81.6" r="2.85"/><circle cx="496.6" cy="83.3" r="2.85"/><circle cx="500.9" cy="84.7" r="2.85"/><circle cx="508.8" cy="84.4" r="2.85"/><circle cx="509.5" cy="84.6" r="2.85"/><circle cx="515.6" cy="84.1" r="2.85"/><circle cx="517.6" cy="83.4" r="2.85"/><circle cx="519.9" cy="83.2" r="2.85"/><circle cx="521.2" cy="83.8" r="2.85"/><circle cx="523.1" cy="84.2" r="2.85"/><circle cx="525.8" cy="83.6" r="2.85"/><circle cx="529.0" cy="83.9" r="2.85"/><circle cx="531.6" cy="84.2" r="2.85"/><circle cx="491.4" cy="86.7" r="2.85"/><circle cx="492.4" cy="86.5" r="2.85"/><circle cx="495.0" cy="86.5" r="2.85"/><circle cx="497.9" cy="86.6" r="2.85"/><circle cx="499.2" cy="85.8" r="2.85"/><circle cx="502.6" cy="86.8" r="2.85"/><circle cx="504.8" cy="85.2" r="2.85"/><circle cx="506.9" cy="85.3" r="2.85"/><circle cx="509.1" cy="86.6" r="2.85"/><circle cx="510.7" cy="86.8" r="2.85"/><circle cx="514.0" cy="85.6" r="2.85"/><circle cx="515.4" cy="85.9" r="2.85"/><circle cx="518.9" cy="86.2" r="2.85"/><circle cx="519.9" cy="85.1" r="2.85"/><circle cx="522.1" cy="86.6" r="2.85"/><circle cx="524.6" cy="86.1" r="2.85"/><circle cx="527.1" cy="86.3" r="2.85"/><circle cx="529.5" cy="85.4" r="2.85"/><circle cx="532.7" cy="86.1" r="2.85"/><circle cx="489.8" cy="88.6" r="2.85"/><circle cx="492.6" cy="87.1" r="2.85"/><circle cx="493.8" cy="87.4" r="2.85"/><circle cx="496.4" cy="88.7" r="2.85"/><circle cx="499.2" cy="87.2" r="2.85"/><circle cx="503.6" cy="87.8" r="2.85"/><circle cx="505.6" cy="87.4" r="2.85"/><circle cx="508.5" cy="87.8" r="2.85"/><circle cx="510.9" cy="88.2" r="2.85"/><circle cx="511.7" cy="87.7" r="2.85"/><circle cx="514.3" cy="88.7" r="2.85"/><circle cx="517.3" cy="87.2" r="2.85"/><circle cx="518.8" cy="87.8" r="2.85"/><circle cx="521.6" cy="88.1" r="2.85"/><circle cx="523.8" cy="87.7" r="2.85"/><circle cx="525.4" cy="88.2" r="2.85"/><circle cx="528.3" cy="87.1" r="2.85"/><circle cx="530.8" cy="88.9" r="2.85"/><circle cx="532.4" cy="87.4" r="2.85"/><circle cx="491.0" cy="89.6" r="2.85"/><circle cx="492.5" cy="90.0" r="2.85"/><circle cx="494.8" cy="90.1" r="2.85"/><circle cx="508.8" cy="89.6" r="2.85"/><circle cx="511.9" cy="90.7" r="2.85"/><circle cx="514.4" cy="90.3" r="2.85"/><circle cx="515.6" cy="90.5" r="2.85"/><circle cx="518.7" cy="90.0" r="2.85"/><circle cx="520.8" cy="89.7" r="2.85"/><circle cx="522.9" cy="89.8" r="2.85"/><circle cx="524.4" cy="89.7" r="2.85"/><circle cx="527.1" cy="90.9" r="2.85"/><circle cx="529.7" cy="89.8" r="2.85"/><circle cx="531.6" cy="89.5" r="2.85"/><circle cx="518.6" cy="92.0" r="2.85"/><circle cx="522.4" cy="91.6" r="2.85"/><circle cx="523.6" cy="91.2" r="2.85"/><circle cx="525.7" cy="91.6" r="2.85"/><circle cx="529.0" cy="91.5" r="2.85"/><circle cx="530.7" cy="91.5" r="2.85"/><circle cx="533.4" cy="92.7" r="2.85"/><circle cx="482.6" cy="94.8" r="2.85"/><circle cx="481.9" cy="99.6" r="2.85"/><circle cx="476.4" cy="97.6" r="2.85"/><circle cx="492.9" cy="94.1" r="2.85"/><circle cx="490.1" cy="103.3" r="2.85"/><circle cx="505.5" cy="107.6" r="2.85"/><circle cx="477.7" cy="107.9" r="2.85"/><circle cx="492.9" cy="115.1" r="2.85"/><circle cx="497.0" cy="118.8" r="2.85"/><circle cx="492.2" cy="121.6" r="2.85"/><circle cx="490.8" cy="123.7" r="2.85"/><circle cx="506.9" cy="119.9" r="2.85"/><circle cx="518.3" cy="112.0" r="2.85"/><circle cx="518.3" cy="116.1" r="2.85"/><circle cx="524.5" cy="116.4" r="2.85"/><circle cx="527.2" cy="109.2" r="2.85"/><circle cx="529.3" cy="102.4" r="2.85"/><circle cx="532.7" cy="98.2" r="2.85"/><circle cx="523.1" cy="122.6" r="2.85"/><circle cx="514.8" cy="125.3" r="2.85"/><circle cx="510.7" cy="126.4" r="2.85"/><circle cx="510.4" cy="130.5" r="2.85"/><circle cx="513.7" cy="133.7" r="2.85"/><circle cx="476.4" cy="122.3" r="2.85"/><circle cx="480.5" cy="122.7" r="2.85"/><circle cx="482.6" cy="128.5" r="2.85"/><circle cx="482.6" cy="129.8" r="2.85"/><circle cx="479.1" cy="134.6" r="2.85"/><circle cx="475.0" cy="130.5" r="2.85"/><circle cx="468.6" cy="101.4" r="2.85"/><circle cx="469.5" cy="107.7" r="2.85"/><circle cx="458.6" cy="99.5" r="2.85"/><circle cx="457.7" cy="103.2" r="2.85"/><circle cx="532.9" cy="46.5" r="2.85"/><circle cx="533.0" cy="47.8" r="2.85"/><circle cx="532.8" cy="50.1" r="2.85"/><circle cx="533.2" cy="51.2" r="2.85"/><circle cx="532.3" cy="53.5" r="2.85"/><circle cx="532.0" cy="54.7" r="2.85"/><circle cx="533.3" cy="56.4" r="2.85"/><circle cx="533.4" cy="58.3" r="2.85"/><circle cx="532.3" cy="59.6" r="2.85"/><circle cx="532.9" cy="61.6" r="2.85"/><circle cx="532.9" cy="63.2" r="2.85"/><circle cx="531.8" cy="64.7" r="2.85"/><circle cx="531.8" cy="66.3" r="2.85"/><circle cx="532.3" cy="68.1" r="2.85"/><circle cx="532.8" cy="69.8" r="2.85"/><circle cx="532.5" cy="71.2" r="2.85"/><circle cx="533.4" cy="72.2" r="2.85"/><circle cx="533.5" cy="74.0" r="2.85"/><circle cx="532.8" cy="75.1" r="2.85"/><circle cx="532.3" cy="77.1" r="2.85"/><circle cx="532.0" cy="78.2" r="2.85"/><circle cx="533.1" cy="79.4" r="2.85"/><circle cx="533.2" cy="80.6" r="2.85"/><circle cx="532.7" cy="82.1" r="2.85"/><circle cx="532.7" cy="84.0" r="2.85"/><circle cx="532.8" cy="85.9" r="2.85"/><circle cx="533.0" cy="87.4" r="2.85"/><circle cx="533.0" cy="88.7" r="2.85"/><circle cx="533.1" cy="90.8" r="2.85"/><circle cx="533.1" cy="92.2" r="2.85"/><circle cx="532.5" cy="94.6" r="2.85"/><circle cx="532.6" cy="96.0" r="2.85"/><circle cx="531.9" cy="98.3" r="2.85"/><circle cx="532.6" cy="99.3" r="2.85"/><circle cx="533.3" cy="101.2" r="2.85"/><circle cx="533.5" cy="102.7" r="2.85"/><circle cx="533.2" cy="104.0" r="2.85"/><circle cx="532.4" cy="105.2" r="2.85"/><circle cx="532.5" cy="106.4" r="2.85"/><circle cx="533.0" cy="108.1" r="2.85"/><circle cx="533.4" cy="109.3" r="2.85"/><circle cx="532.6" cy="110.8" r="2.85"/><circle cx="533.2" cy="112.1" r="2.85"/><circle cx="532.6" cy="114.4" r="2.85"/><circle cx="533.3" cy="115.4" r="2.85"/><circle cx="533.5" cy="116.7" r="2.85"/><circle cx="533.1" cy="118.4" r="2.85"/><circle cx="533.3" cy="119.9" r="2.85"/><circle cx="532.8" cy="121.6" r="2.85"/><circle cx="532.5" cy="123.8" r="2.85"/><circle cx="532.5" cy="125.9" r="2.85"/><circle cx="532.8" cy="127.8" r="2.85"/><circle cx="532.5" cy="130.0" r="2.85"/><circle cx="532.9" cy="131.8" r="2.85"/><circle cx="533.4" cy="134.1" r="2.85"/><circle cx="532.6" cy="135.9" r="2.85"/><circle cx="530.5" cy="119.0" r="2.85"/><circle cx="530.5" cy="129.0" r="2.85"/><circle cx="447.0" cy="121.0" r="2.85"/><circle cx="446.0" cy="117.0" r="2.85"/><circle cx="436.0" cy="112.0" r="2.85"/><circle cx="439.0" cy="113.5" r="2.85"/><circle cx="442.0" cy="121.0" r="2.85"/><circle cx="438.0" cy="118.5" r="2.85"/><circle cx="444.0" cy="112.5" r="2.85"/><circle cx="433.0" cy="114.5" r="2.85"/><circle cx="428.5" cy="113.5" r="2.85"/><circle cx="449.9" cy="145.6" r="2.85"/></g>
<g fill="#333" font-size="9.7" stroke="#333" stroke-width="0.15">
<text x="329.1" y="185.3" text-anchor="middle">0</text>
<text x="370.0" y="185.3" text-anchor="middle">0.2</text>
<text x="410.8" y="185.3" text-anchor="middle">0.4</text>
<text x="451.7" y="185.3" text-anchor="middle">0.6</text>
<text x="492.5" y="185.3" text-anchor="middle">0.8</text>
<text x="533.4" y="185.3" text-anchor="middle">1</text>
<text x="325.4" y="175.9" text-anchor="end">0</text>
<text x="325.4" y="139.4" text-anchor="end">0.5</text>
<text x="325.4" y="102.8" text-anchor="end">1</text>
<text x="325.4" y="66.3" text-anchor="end">1.5</text>
<text x="325.4" y="29.8" text-anchor="end">2</text>
</g>
<text x="430.9" y="21.4" text-anchor="middle" font-size="10.65" font-weight="bold" fill="#1a1a1a">(b) Slug flow, disturbed by valve</text>
<text x="431.2" y="199.2" text-anchor="middle" font-size="9.85" fill="#333">Liquid holdup, <tspan font-style="italic">h</tspan><tspan font-size="7.2" dy="3.9" fill="#5a5a5a">liq</tspan><tspan dy="-3.9"> (-)</tspan></text>
<text transform="translate(303.1 98.5) rotate(-90)" text-anchor="middle" font-size="9.85" fill="#333">Liquid velocity, <tspan font-style="italic">u</tspan><tspan font-size="7.2" dy="3.9" fill="#5a5a5a">liq</tspan><tspan dy="-3.9"> (m/s)</tspan></text>
<g stroke="#e5e5e5" stroke-width="1"><line x1="84.50" y1="241.7" x2="84.50" y2="394.9"/><line x1="126.50" y1="241.7" x2="126.50" y2="394.9"/><line x1="168.50" y1="241.7" x2="168.50" y2="394.9"/><line x1="210.50" y1="241.7" x2="210.50" y2="394.9"/><line x1="42.1" y1="373.50" x2="252.6" y2="373.50"/><line x1="42.1" y1="351.50" x2="252.6" y2="351.50"/><line x1="42.1" y1="329.50" x2="252.6" y2="329.50"/><line x1="42.1" y1="307.50" x2="252.6" y2="307.50"/><line x1="42.1" y1="285.50" x2="252.6" y2="285.50"/><line x1="42.1" y1="263.50" x2="252.6" y2="263.50"/></g>
<rect x="42.1" y="241.7" width="210.5" height="153.2" fill="none" stroke="#4c4c4c" stroke-width="1.25"/>
<path d="M84.20 394.9v-3M84.20 241.7v3M126.30 394.9v-3M126.30 241.7v3M168.40 394.9v-3M168.40 241.7v3M210.50 394.9v-3M210.50 241.7v3M42.1 373.01h3M252.6 373.01h-3M42.1 351.13h3M252.6 351.13h-3M42.1 329.24h3M252.6 329.24h-3M42.1 307.36h3M252.6 307.36h-3M42.1 285.47h3M252.6 285.47h-3M42.1 263.59h3M252.6 263.59h-3" stroke="#4c4c4c" stroke-width="1.25" fill="none"/>
<g fill="#0072bd"><circle cx="92.2" cy="359.8" r="2.85"/><circle cx="95.2" cy="359.8" r="2.85"/><circle cx="97.1" cy="359.7" r="2.85"/><circle cx="88.5" cy="360.9" r="2.85"/><circle cx="90.9" cy="361.6" r="2.85"/><circle cx="93.2" cy="361.2" r="2.85"/><circle cx="94.6" cy="360.5" r="2.85"/><circle cx="96.7" cy="361.6" r="2.85"/><circle cx="98.8" cy="360.6" r="2.85"/><circle cx="86.0" cy="362.7" r="2.85"/><circle cx="87.4" cy="362.7" r="2.85"/><circle cx="90.0" cy="362.2" r="2.85"/><circle cx="91.1" cy="363.2" r="2.85"/><circle cx="93.6" cy="362.9" r="2.85"/><circle cx="98.5" cy="361.9" r="2.85"/><circle cx="99.8" cy="363.2" r="2.85"/><circle cx="84.1" cy="364.7" r="2.85"/><circle cx="86.8" cy="364.2" r="2.85"/><circle cx="91.2" cy="364.0" r="2.85"/><circle cx="99.4" cy="364.3" r="2.85"/><circle cx="101.1" cy="364.5" r="2.85"/><circle cx="80.3" cy="367.1" r="2.85"/><circle cx="82.8" cy="365.9" r="2.85"/><circle cx="85.0" cy="365.9" r="2.85"/><circle cx="100.1" cy="366.1" r="2.85"/><circle cx="102.0" cy="366.3" r="2.85"/><circle cx="78.6" cy="367.7" r="2.85"/><circle cx="79.4" cy="367.5" r="2.85"/><circle cx="82.6" cy="368.9" r="2.85"/><circle cx="84.1" cy="368.4" r="2.85"/><circle cx="86.0" cy="368.8" r="2.85"/><circle cx="91.9" cy="368.7" r="2.85"/><circle cx="99.0" cy="367.6" r="2.85"/><circle cx="101.7" cy="367.9" r="2.85"/><circle cx="77.1" cy="370.7" r="2.85"/><circle cx="78.8" cy="370.7" r="2.85"/><circle cx="81.4" cy="369.2" r="2.85"/><circle cx="82.9" cy="369.9" r="2.85"/><circle cx="84.9" cy="370.3" r="2.85"/><circle cx="86.9" cy="370.4" r="2.85"/><circle cx="91.7" cy="369.3" r="2.85"/><circle cx="93.8" cy="370.4" r="2.85"/><circle cx="96.0" cy="369.9" r="2.85"/><circle cx="97.2" cy="370.0" r="2.85"/><circle cx="99.4" cy="370.2" r="2.85"/><circle cx="77.2" cy="371.6" r="2.85"/><circle cx="80.1" cy="371.5" r="2.85"/><circle cx="82.8" cy="371.1" r="2.85"/><circle cx="84.4" cy="371.4" r="2.85"/><circle cx="86.5" cy="372.2" r="2.85"/><circle cx="88.8" cy="371.1" r="2.85"/><circle cx="90.1" cy="371.9" r="2.85"/><circle cx="93.4" cy="371.1" r="2.85"/><circle cx="94.9" cy="372.1" r="2.85"/><circle cx="97.4" cy="371.5" r="2.85"/><circle cx="75.3" cy="374.1" r="2.85"/><circle cx="77.0" cy="373.5" r="2.85"/><circle cx="79.5" cy="374.1" r="2.85"/><circle cx="81.7" cy="373.3" r="2.85"/><circle cx="83.9" cy="373.7" r="2.85"/><circle cx="86.0" cy="373.0" r="2.85"/><circle cx="93.6" cy="373.2" r="2.85"/><circle cx="95.8" cy="374.3" r="2.85"/><circle cx="74.5" cy="375.2" r="2.85"/><circle cx="75.4" cy="376.1" r="2.85"/><circle cx="78.1" cy="376.1" r="2.85"/><circle cx="79.9" cy="375.4" r="2.85"/><circle cx="82.9" cy="375.5" r="2.85"/><circle cx="85.0" cy="374.9" r="2.85"/><circle cx="86.9" cy="374.9" r="2.85"/><circle cx="94.4" cy="375.2" r="2.85"/><circle cx="68.6" cy="376.5" r="2.85"/><circle cx="70.4" cy="377.7" r="2.85"/><circle cx="72.9" cy="376.9" r="2.85"/><circle cx="75.2" cy="376.9" r="2.85"/><circle cx="77.0" cy="377.1" r="2.85"/><circle cx="79.8" cy="377.5" r="2.85"/><circle cx="81.6" cy="377.6" r="2.85"/><circle cx="83.0" cy="378.0" r="2.85"/><circle cx="85.6" cy="377.6" r="2.85"/><circle cx="87.0" cy="376.7" r="2.85"/><circle cx="89.6" cy="377.8" r="2.85"/><circle cx="93.1" cy="377.3" r="2.85"/><circle cx="123.3" cy="377.7" r="2.85"/><circle cx="65.1" cy="379.8" r="2.85"/><circle cx="67.5" cy="378.8" r="2.85"/><circle cx="69.8" cy="378.7" r="2.85"/><circle cx="72.1" cy="378.4" r="2.85"/><circle cx="74.3" cy="379.2" r="2.85"/><circle cx="75.6" cy="379.8" r="2.85"/><circle cx="77.6" cy="378.7" r="2.85"/><circle cx="79.4" cy="379.2" r="2.85"/><circle cx="82.6" cy="379.4" r="2.85"/><circle cx="84.1" cy="379.6" r="2.85"/><circle cx="85.7" cy="378.8" r="2.85"/><circle cx="88.7" cy="379.8" r="2.85"/><circle cx="90.8" cy="379.4" r="2.85"/><circle cx="93.1" cy="378.9" r="2.85"/><circle cx="95.5" cy="379.5" r="2.85"/><circle cx="96.6" cy="378.9" r="2.85"/><circle cx="100.5" cy="379.7" r="2.85"/><circle cx="103.2" cy="379.1" r="2.85"/><circle cx="105.5" cy="379.7" r="2.85"/><circle cx="106.8" cy="378.8" r="2.85"/><circle cx="108.8" cy="379.0" r="2.85"/><circle cx="111.6" cy="379.7" r="2.85"/><circle cx="113.9" cy="379.2" r="2.85"/><circle cx="115.6" cy="379.2" r="2.85"/><circle cx="117.5" cy="379.6" r="2.85"/><circle cx="120.4" cy="379.6" r="2.85"/><circle cx="121.5" cy="379.4" r="2.85"/><circle cx="124.6" cy="379.1" r="2.85"/><circle cx="62.4" cy="381.5" r="2.85"/><circle cx="63.7" cy="381.3" r="2.85"/><circle cx="66.7" cy="381.1" r="2.85"/><circle cx="68.1" cy="380.2" r="2.85"/><circle cx="70.8" cy="381.4" r="2.85"/><circle cx="72.3" cy="380.5" r="2.85"/><circle cx="74.4" cy="380.3" r="2.85"/><circle cx="77.2" cy="381.7" r="2.85"/><circle cx="79.5" cy="380.7" r="2.85"/><circle cx="81.4" cy="380.2" r="2.85"/><circle cx="83.7" cy="380.6" r="2.85"/><circle cx="84.5" cy="381.1" r="2.85"/><circle cx="86.8" cy="380.6" r="2.85"/><circle cx="88.8" cy="380.8" r="2.85"/><circle cx="91.7" cy="381.4" r="2.85"/><circle cx="93.0" cy="381.4" r="2.85"/><circle cx="95.2" cy="380.5" r="2.85"/><circle cx="98.1" cy="380.7" r="2.85"/><circle cx="99.7" cy="381.0" r="2.85"/><circle cx="101.6" cy="381.4" r="2.85"/><circle cx="103.7" cy="381.5" r="2.85"/><circle cx="106.8" cy="381.0" r="2.85"/><circle cx="107.6" cy="381.4" r="2.85"/><circle cx="109.7" cy="380.9" r="2.85"/><circle cx="112.5" cy="380.2" r="2.85"/><circle cx="114.9" cy="381.3" r="2.85"/><circle cx="116.9" cy="380.8" r="2.85"/><circle cx="118.9" cy="381.1" r="2.85"/><circle cx="120.6" cy="381.5" r="2.85"/><circle cx="123.9" cy="381.4" r="2.85"/><circle cx="61.1" cy="382.2" r="2.85"/><circle cx="63.2" cy="383.0" r="2.85"/><circle cx="65.7" cy="382.7" r="2.85"/><circle cx="67.2" cy="382.3" r="2.85"/><circle cx="69.4" cy="382.4" r="2.85"/><circle cx="71.2" cy="383.1" r="2.85"/><circle cx="73.8" cy="382.7" r="2.85"/><circle cx="75.4" cy="383.1" r="2.85"/><circle cx="77.5" cy="382.4" r="2.85"/><circle cx="80.1" cy="383.1" r="2.85"/><circle cx="82.9" cy="383.1" r="2.85"/><circle cx="85.0" cy="383.4" r="2.85"/><circle cx="86.7" cy="383.1" r="2.85"/><circle cx="87.8" cy="382.3" r="2.85"/><circle cx="89.8" cy="383.3" r="2.85"/><circle cx="93.0" cy="383.0" r="2.85"/><circle cx="94.4" cy="382.5" r="2.85"/><circle cx="96.3" cy="383.0" r="2.85"/><circle cx="99.7" cy="382.4" r="2.85"/><circle cx="100.3" cy="382.2" r="2.85"/><circle cx="102.9" cy="383.4" r="2.85"/><circle cx="105.7" cy="382.7" r="2.85"/><circle cx="106.7" cy="382.1" r="2.85"/><circle cx="108.9" cy="383.2" r="2.85"/><circle cx="114.3" cy="383.2" r="2.85"/><circle cx="115.7" cy="383.3" r="2.85"/><circle cx="117.3" cy="382.1" r="2.85"/><circle cx="120.1" cy="382.8" r="2.85"/><circle cx="121.6" cy="382.4" r="2.85"/><circle cx="62.6" cy="384.4" r="2.85"/><circle cx="65.8" cy="383.8" r="2.85"/><circle cx="68.0" cy="384.7" r="2.85"/><circle cx="70.4" cy="383.8" r="2.85"/><circle cx="73.2" cy="385.0" r="2.85"/><circle cx="74.7" cy="383.8" r="2.85"/><circle cx="77.5" cy="384.6" r="2.85"/><circle cx="78.3" cy="384.3" r="2.85"/><circle cx="81.3" cy="385.2" r="2.85"/><circle cx="83.2" cy="384.8" r="2.85"/><circle cx="84.8" cy="384.2" r="2.85"/><circle cx="88.0" cy="384.4" r="2.85"/><circle cx="88.9" cy="384.7" r="2.85"/><circle cx="91.0" cy="384.1" r="2.85"/><circle cx="93.6" cy="384.7" r="2.85"/><circle cx="96.0" cy="384.9" r="2.85"/><circle cx="97.8" cy="383.9" r="2.85"/><circle cx="100.4" cy="383.9" r="2.85"/><circle cx="102.1" cy="384.4" r="2.85"/><circle cx="84.0" cy="284.6" r="2.85"/><circle cx="70.6" cy="298.0" r="2.85"/><circle cx="140.0" cy="316.6" r="2.85"/><circle cx="124.0" cy="324.0" r="2.85"/><circle cx="199.6" cy="260.7" r="2.85"/><circle cx="202.8" cy="312.7" r="2.85"/><circle cx="110.5" cy="330.0" r="2.85"/><circle cx="121.5" cy="334.0" r="2.85"/><circle cx="130.9" cy="333.3" r="2.85"/><circle cx="82.7" cy="338.7" r="2.85"/><circle cx="99.6" cy="345.5" r="2.85"/><circle cx="111.5" cy="343.6" r="2.85"/><circle cx="117.3" cy="346.4" r="2.85"/><circle cx="119.6" cy="347.3" r="2.85"/><circle cx="125.1" cy="347.6" r="2.85"/><circle cx="110.0" cy="350.0" r="2.85"/><circle cx="105.5" cy="350.9" r="2.85"/><circle cx="103.6" cy="354.0" r="2.85"/><circle cx="92.7" cy="353.3" r="2.85"/><circle cx="88.2" cy="353.3" r="2.85"/><circle cx="85.5" cy="354.0" r="2.85"/><circle cx="78.7" cy="357.3" r="2.85"/><circle cx="117.3" cy="354.5" r="2.85"/><circle cx="120.9" cy="358.2" r="2.85"/><circle cx="107.3" cy="357.8" r="2.85"/><circle cx="110.0" cy="361.8" r="2.85"/><circle cx="136.4" cy="357.8" r="2.85"/><circle cx="131.8" cy="360.4" r="2.85"/><circle cx="122.7" cy="363.3" r="2.85"/><circle cx="123.6" cy="366.4" r="2.85"/><circle cx="64.5" cy="370.0" r="2.85"/><circle cx="60.4" cy="378.1" r="2.85"/><circle cx="150.5" cy="336.3" r="2.85"/><circle cx="154.5" cy="362.3" r="2.85"/><circle cx="146.9" cy="363.5" r="2.85"/><circle cx="147.6" cy="366.8" r="2.85"/><circle cx="141.5" cy="372.3" r="2.85"/><circle cx="121.5" cy="373.2" r="2.85"/><circle cx="157.8" cy="373.2" r="2.85"/><circle cx="153.1" cy="374.1" r="2.85"/><circle cx="149.1" cy="374.5" r="2.85"/><circle cx="131.8" cy="375.9" r="2.85"/><circle cx="137.3" cy="377.4" r="2.85"/><circle cx="134.5" cy="378.6" r="2.85"/><circle cx="130.0" cy="380.5" r="2.85"/><circle cx="104.7" cy="350.2" r="2.85"/><circle cx="106.9" cy="357.5" r="2.85"/><circle cx="100.0" cy="346.0" r="2.85"/><circle cx="58.5" cy="384.3" r="2.85"/><circle cx="102.4" cy="353.6" r="2.85"/></g>
<g fill="#333" font-size="9.7" stroke="#333" stroke-width="0.15">
<text x="42.1" y="408.6" text-anchor="middle">0</text>
<text x="84.2" y="408.6" text-anchor="middle">0.2</text>
<text x="126.3" y="408.6" text-anchor="middle">0.4</text>
<text x="168.4" y="408.6" text-anchor="middle">0.6</text>
<text x="210.5" y="408.6" text-anchor="middle">0.8</text>
<text x="252.6" y="408.6" text-anchor="middle">1</text>
<text x="38.4" y="399.2" text-anchor="end">0</text>
<text x="38.4" y="377.3" text-anchor="end">1</text>
<text x="38.4" y="355.4" text-anchor="end">2</text>
<text x="38.4" y="333.5" text-anchor="end">3</text>
<text x="38.4" y="311.7" text-anchor="end">4</text>
<text x="38.4" y="289.8" text-anchor="end">5</text>
<text x="38.4" y="267.9" text-anchor="end">6</text>
<text x="38.4" y="246.0" text-anchor="end">7</text>
</g>
<text x="146.9" y="237.6" text-anchor="middle" font-size="10.65" font-weight="bold" fill="#1a1a1a">(c) Wavy flow</text>
<text x="147.3" y="422.5" text-anchor="middle" font-size="9.85" fill="#333">Liquid holdup, <tspan font-style="italic">h</tspan><tspan font-size="7.2" dy="3.9" fill="#5a5a5a">liq</tspan><tspan dy="-3.9"> (-)</tspan></text>
<text transform="translate(23.5 318.3) rotate(-90)" text-anchor="middle" font-size="9.85" fill="#333">Liquid velocity, <tspan font-style="italic">u</tspan><tspan font-size="7.2" dy="3.9" fill="#5a5a5a">liq</tspan><tspan dy="-3.9"> (m/s)</tspan></text>
<g stroke="#e5e5e5" stroke-width="1"><line x1="366.50" y1="241.7" x2="366.50" y2="394.7"/><line x1="408.50" y1="241.7" x2="408.50" y2="394.7"/><line x1="450.50" y1="241.7" x2="450.50" y2="394.7"/><line x1="491.50" y1="241.7" x2="491.50" y2="394.7"/><line x1="324.9" y1="356.50" x2="533.4" y2="356.50"/><line x1="324.9" y1="318.50" x2="533.4" y2="318.50"/><line x1="324.9" y1="279.50" x2="533.4" y2="279.50"/></g>
<rect x="324.9" y="241.7" width="208.5" height="153.0" fill="none" stroke="#4c4c4c" stroke-width="1.25"/>
<path d="M366.60 394.7v-3M366.60 241.7v3M408.30 394.7v-3M408.30 241.7v3M450.00 394.7v-3M450.00 241.7v3M491.70 394.7v-3M491.70 241.7v3M324.9 356.45h3M533.4 356.45h-3M324.9 318.20h3M533.4 318.20h-3M324.9 279.95h3M533.4 279.95h-3" stroke="#4c4c4c" stroke-width="1.25" fill="none"/>
<g fill="#0072bd"><circle cx="358.8" cy="364.1" r="2.85"/><circle cx="362.1" cy="364.1" r="2.85"/><circle cx="360.4" cy="362.9" r="2.85"/><circle cx="360.4" cy="365.3" r="2.85"/><circle cx="359.5" cy="363.3" r="2.85"/><circle cx="361.4" cy="363.3" r="2.85"/><circle cx="359.5" cy="365.0" r="2.85"/><circle cx="361.4" cy="365.0" r="2.85"/><circle cx="360.4" cy="364.1" r="2.85"/></g>
<g fill="#333" font-size="9.7" stroke="#333" stroke-width="0.15">
<text x="324.9" y="408.4" text-anchor="middle">0</text>
<text x="366.6" y="408.4" text-anchor="middle">0.2</text>
<text x="408.3" y="408.4" text-anchor="middle">0.4</text>
<text x="450.0" y="408.4" text-anchor="middle">0.6</text>
<text x="491.7" y="408.4" text-anchor="middle">0.8</text>
<text x="533.4" y="408.4" text-anchor="middle">1</text>
<text x="321.2" y="399.0" text-anchor="end">0</text>
<text x="321.2" y="360.8" text-anchor="end">0.5</text>
<text x="321.2" y="322.5" text-anchor="end">1</text>
<text x="321.2" y="284.2" text-anchor="end">1.5</text>
<text x="321.2" y="246.0" text-anchor="end">2</text>
</g>
<text x="428.8" y="237.6" text-anchor="middle" font-size="10.65" font-weight="bold" fill="#1a1a1a">(d) Stratified flow</text>
<text x="429.1" y="422.3" text-anchor="middle" font-size="9.85" fill="#333">Liquid holdup, <tspan font-style="italic">h</tspan><tspan font-size="7.2" dy="3.9" fill="#5a5a5a">liq</tspan><tspan dy="-3.9"> (-)</tspan></text>
<text transform="translate(297.5 318.2) rotate(-90)" text-anchor="middle" font-size="9.85" fill="#333">Liquid velocity, <tspan font-style="italic">u</tspan><tspan font-size="7.2" dy="3.9" fill="#5a5a5a">liq</tspan><tspan dy="-3.9"> (m/s)</tspan></text>
</svg>
</body></html>
